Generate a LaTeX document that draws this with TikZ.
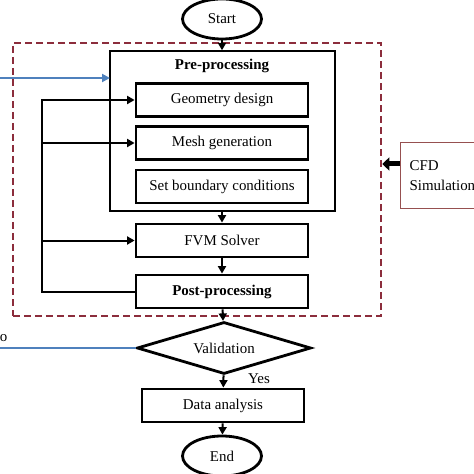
\documentclass[tikz,border=0pt]{standalone}
\usepackage{fontspec}
\setmainfont{Liberation Serif}
\usetikzlibrary{arrows.meta,shapes.geometric}
\definecolor{simred}{RGB}{140,45,60}
\definecolor{cfdred}{RGB}{150,80,80}
\definecolor{loopblue}{RGB}{79,129,189}
\tikzset{
  txt/.style={font=\fontsize{15}{20}\selectfont},
  stepbox/.style={txt,draw,line width=2.8bp,minimum width=172bp,minimum height=33bp,inner sep=0pt},
  term/.style={txt,draw,ellipse,line width=2.8bp,minimum width=79bp,minimum height=40bp,inner sep=0pt},
  flow/.style={line width=2bp,-{Triangle[length=7.5bp,width=8bp]}},
  blueline/.style={loopblue,line width=2bp,-{Triangle[length=8bp,width=8bp]}},
}
\begin{document}
\begin{tikzpicture}[x=1bp,y=-1bp]
\useasboundingbox (0,0) rectangle (474,474);
% simulation frame
\node[draw=simred,line width=2.6bp,dash pattern=on 7bp off 4bp,minimum width=368bp,minimum height=273bp,inner sep=0pt] (sim) at (197,179.5) {};
% pre-processing container
\node[draw,line width=1.4bp,minimum width=225bp,minimum height=160bp,inner sep=0pt] (pre) at (222.5,131) {};
\node[txt,font=\fontsize{15}{20}\selectfont\bfseries] (prelbl) at (222,66) {Pre-processing};
\node[term] (start) at (222,19) {Start};
\node[stepbox] (geo) at (222,100) {Geometry design};
\node[stepbox] (mesh) at (222,143) {Mesh generation};
\node[stepbox] (bc) at (222,186.5) {Set boundary conditions};
\node[stepbox] (fvm) at (222,240.5) {FVM Solver};
\node[stepbox,font=\fontsize{15}{20}\selectfont\bfseries] (post) at (222,291.5) {Post-processing};
\node[txt,draw,diamond,aspect=3.35,line width=2.8bp,minimum width=174bp,minimum height=52bp,inner sep=0pt] (val) at (224,348) {Validation};
\node[stepbox,minimum width=162bp] (data) at (223,405.5) {Data analysis};
\node[term] (end) at (222,456) {End};
\node[txt,anchor=north west,draw=cfdred,line width=1.2bp,text width=72bp,align=left,inner xsep=9bp,inner ysep=6bp,minimum height=66bp] (cfd) at (400,142) {CFD\\Simulation};
\node[txt] (yes) at (259,379) {Yes};
\node[txt,anchor=east,inner sep=0pt] (no) at (7.5,337) {No};
% coordinates
\coordinate (fbX) at (42,200);
\coordinate (blueX) at (-20,200);
\coordinate (preIn) at (110,78);
\coordinate (cfdOut) at (400,164);
% main flow
\draw[flow] (start) -- (pre.north -| start);
\draw[flow] (pre.south -| fvm) -- (fvm);
\draw[flow] (fvm) -- (post);
\draw[flow] (post) -- (val);
\draw[flow] (val) -- (data);
\draw[flow] (data) -- (end);
% feedback
\draw[flow] (post.west) -| (fbX) |- (geo.west);
\draw[flow] (fbX |- mesh.west) -- (mesh.west);
\draw[flow] (fbX |- fvm.west) -- (fvm.west);
% validation loop
\draw[blueline] (val.west) -| (blueX) |- (preIn);
% CFD
\draw[line width=5bp,-{Triangle[length=7bp,width=13bp]}] (cfdOut) -- (sim.east |- cfdOut);
\end{tikzpicture}
\end{document}
